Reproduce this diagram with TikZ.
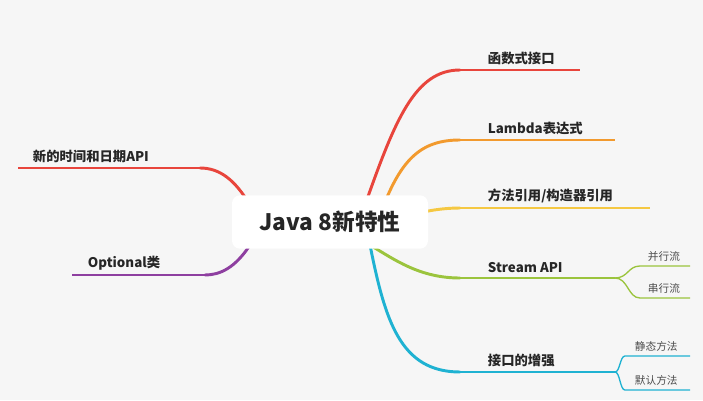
\documentclass[tikz,border=0pt]{standalone}
\usepackage{fontspec}
\setmainfont{Noto Sans CJK SC}
\usepackage{tikz}
\usetikzlibrary{positioning}
\definecolor{bg}{HTML}{F6F6F6}
\definecolor{cred}{HTML}{E8453C}
\definecolor{corange}{HTML}{F29A2E}
\definecolor{cyellow}{HTML}{F5C842}
\definecolor{cgreen}{HTML}{9BC43D}
\definecolor{ccyan}{HTML}{1FB2D2}
\definecolor{cpurple}{HTML}{8E3FA0}
\tikzset{
  topic/.style={font=\bfseries\fontsize{10}{12}\selectfont, text=black!85, anchor=south west, inner sep=2pt},
  sub/.style={font=\fontsize{8}{10}\selectfont, text=black!70, anchor=south west, inner sep=2pt},
  branch/.style={line width=2.2pt, line cap=round},
  twig/.style={line width=1pt}
}
\begin{document}
\begin{tikzpicture}[x=0.75pt,y=-0.75pt]

	\fill[bg] (0,0) rectangle (703,400);

	% centre
	\coordinate (cu) at (365,205);
	\coordinate (cd) at (370,245);
	\coordinate (cl) at (250,205);
	\coordinate (cld) at (250,245);

	% right topics
	\coordinate (a0) at (460,70);  \coordinate (a1) at (580,70);
	\coordinate (b0) at (460,140); \coordinate (b1) at (615,140);
	\coordinate (c0) at (460,208); \coordinate (c1) at (650,208);
	\coordinate (d0) at (460,278); \coordinate (d1) at (615,278);
	\coordinate (e0) at (460,372); \coordinate (e1) at (615,372);
	% left topics
	\coordinate (f0) at (200,168); \coordinate (f1) at (18,168);
	\coordinate (g0) at (205,275); \coordinate (g1) at (72,275);
	% sub topics
	\coordinate (d2) at (640,266); \coordinate (d3) at (690,266);
	\coordinate (d4) at (640,298); \coordinate (d5) at (690,298);
	\coordinate (e2) at (625,356); \coordinate (e3) at (690,356);
	\coordinate (e4) at (625,390); \coordinate (e5) at (690,390);

	\draw[branch, cred] (cu) .. controls (395,120) and (415,70) .. (a0);
	\draw[twig, cred] (a0) -- (a1);
	\draw[branch, corange] (380,215) .. controls (400,160) and (420,140) .. (b0);
	\draw[twig, corange] (b0) -- (b1);
	\draw[branch, cyellow] (410,215) .. controls (430,210) and (445,208) .. (c0);
	\draw[twig, cyellow] (c0) -- (c1);
	\draw[branch, cgreen] (cd) .. controls (395,260) and (420,278) .. (d0);
	\draw[twig, cgreen] (d0) -- (d1);
	\draw[branch, ccyan] (cd) .. controls (385,320) and (400,372) .. (e0);
	\draw[twig, ccyan] (e0) -- (e1);
	\draw[branch, cred] (cl) .. controls (235,180) and (220,168) .. (f0);
	\draw[twig, cred] (f0) -- (f1);
	\draw[branch, cpurple] (cld) .. controls (235,268) and (220,275) .. (g0);
	\draw[twig, cpurple] (g0) -- (g1);

	\draw[twig, cgreen] (d1) .. controls (628,278) and (628,266) .. (d2) -- (d3);
	\draw[twig, cgreen] (d1) .. controls (628,278) and (628,298) .. (d4) -- (d5);
	\draw[twig, ccyan] (e1) .. controls (620,372) and (620,356) .. (e2) -- (e3);
	\draw[twig, ccyan] (e1) .. controls (620,372) and (620,390) .. (e4) -- (e5);

	\node (java) [fill=white, rounded corners=6pt, minimum width=196\pgflinewidth, font=\bfseries\fontsize{17}{20}\selectfont, text=black!85, minimum height=40pt, minimum width=147pt] at (330,222) {Java 8新特性};

	\node (fn) [topic] at (485,68) {函数式接口};
	\node (lam) [topic] at (485,138) {Lambda表达式};
	\node (ref) [topic] at (485,206) {方法引用/构造器引用};
	\node (st) [topic] at (485,276) {Stream API};
	\node (itf) [topic] at (485,370) {接口的增强};
	\node (time) [topic] at (30,166) {新的时间和日期API};
	\node (opt) [topic] at (85,273) {Optional类};
	\node (par) [sub] at (645,264) {并行流};
	\node (ser) [sub] at (645,296) {串行流};
	\node (sta) [sub] at (632,354) {静态方法};
	\node (def) [sub] at (632,388) {默认方法};

\end{tikzpicture}
\end{document}
